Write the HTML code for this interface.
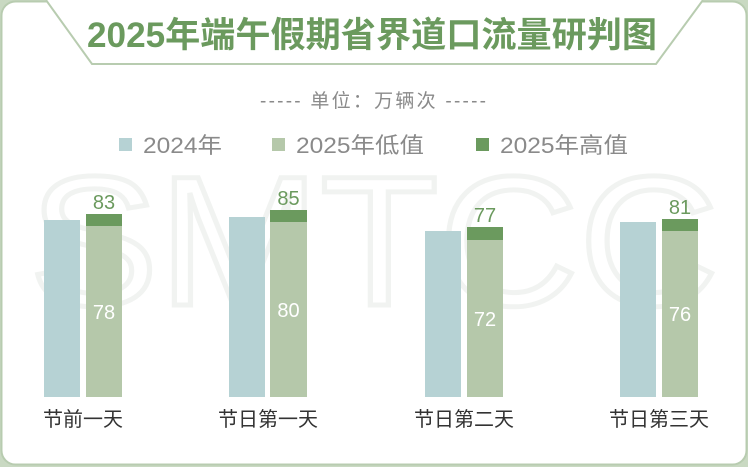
<!DOCTYPE html>
<html><head><meta charset="utf-8"><style>
html,body{margin:0;padding:0;background:#fff;}
svg{display:block;}
text{font-family:"Liberation Sans","Noto Sans CJK SC",sans-serif;}
</style></head><body>
<svg width="748" height="467" viewBox="0 0 748 467" xmlns="http://www.w3.org/2000/svg">
<rect x="0" y="0" width="748" height="467" fill="#c9d9c2"/>
<rect x="1.5" y="1.5" width="745" height="463" rx="14" fill="#fff" stroke="#b8ccb0" stroke-width="2"/>
<!-- watermark -->
<text x="374" y="305" text-anchor="middle" font-size="185" fill="none" stroke="#f1f3f1" stroke-width="5" textLength="690" lengthAdjust="spacingAndGlyphs">SMTCC</text>
<!-- title tab -->
<path d="M46 0 L92 64 L656 64 L703 0" fill="#fff" stroke="#b8ccb0" stroke-width="2"/>
<text x="372" y="47" text-anchor="middle" font-size="35" font-weight="bold" fill="#6b9a5e" textLength="570" lengthAdjust="spacingAndGlyphs">2025年端午假期省界道口流量研判图</text>
<!-- unit -->
<text x="373" y="107" text-anchor="middle" font-size="19" fill="#8a8a8a" textLength="226" lengthAdjust="spacing">----- 单位：万辆次 -----</text>
<!-- legend -->
<rect x="119" y="138" width="13" height="13" fill="#b6d2d4"/>
<text x="143" y="153" font-size="22" fill="#8a8a8a" textLength="79" lengthAdjust="spacingAndGlyphs">2024年</text>
<rect x="272" y="138" width="13" height="13" fill="#b5c8aa"/>
<text x="296" y="153" font-size="22" fill="#8a8a8a" textLength="128" lengthAdjust="spacingAndGlyphs">2025年低值</text>
<rect x="476" y="138" width="13" height="13" fill="#6b9a5e"/>
<text x="500" y="153" font-size="22" fill="#8a8a8a" textLength="128" lengthAdjust="spacingAndGlyphs">2025年高值</text>
<!-- bars -->
<g>
<rect x="44" y="220" width="36" height="177" fill="#b6d2d4"/>
<rect x="86" y="214" width="36" height="183" fill="#6b9a5e"/>
<rect x="86" y="226" width="36" height="171" fill="#b5c8aa"/>
<text x="104" y="209" text-anchor="middle" font-size="20" fill="#6b9a5e">83</text>
<text x="104" y="319" text-anchor="middle" font-size="20" fill="#fff">78</text>
<text x="83" y="426" text-anchor="middle" font-size="20" fill="#333">节前一天</text>

<rect x="229" y="217" width="36" height="180" fill="#b6d2d4"/>
<rect x="270" y="210" width="37" height="187" fill="#6b9a5e"/>
<rect x="270" y="222" width="37" height="175" fill="#b5c8aa"/>
<text x="288.5" y="205" text-anchor="middle" font-size="20" fill="#6b9a5e">85</text>
<text x="288.5" y="317" text-anchor="middle" font-size="20" fill="#fff">80</text>
<text x="268" y="426" text-anchor="middle" font-size="20" fill="#333">节日第一天</text>

<rect x="425" y="231" width="36" height="166" fill="#b6d2d4"/>
<rect x="467" y="227" width="36" height="170" fill="#6b9a5e"/>
<rect x="467" y="240" width="36" height="157" fill="#b5c8aa"/>
<text x="485" y="222" text-anchor="middle" font-size="20" fill="#6b9a5e">77</text>
<text x="485" y="326" text-anchor="middle" font-size="20" fill="#fff">72</text>
<text x="464" y="426" text-anchor="middle" font-size="20" fill="#333">节日第二天</text>

<rect x="620" y="222" width="36" height="175" fill="#b6d2d4"/>
<rect x="662" y="219" width="36" height="178" fill="#6b9a5e"/>
<rect x="662" y="231" width="36" height="166" fill="#b5c8aa"/>
<text x="680" y="214" text-anchor="middle" font-size="20" fill="#6b9a5e">81</text>
<text x="680" y="321" text-anchor="middle" font-size="20" fill="#fff">76</text>
<text x="659" y="426" text-anchor="middle" font-size="20" fill="#333">节日第三天</text>
</g>
</svg>
</body></html>
